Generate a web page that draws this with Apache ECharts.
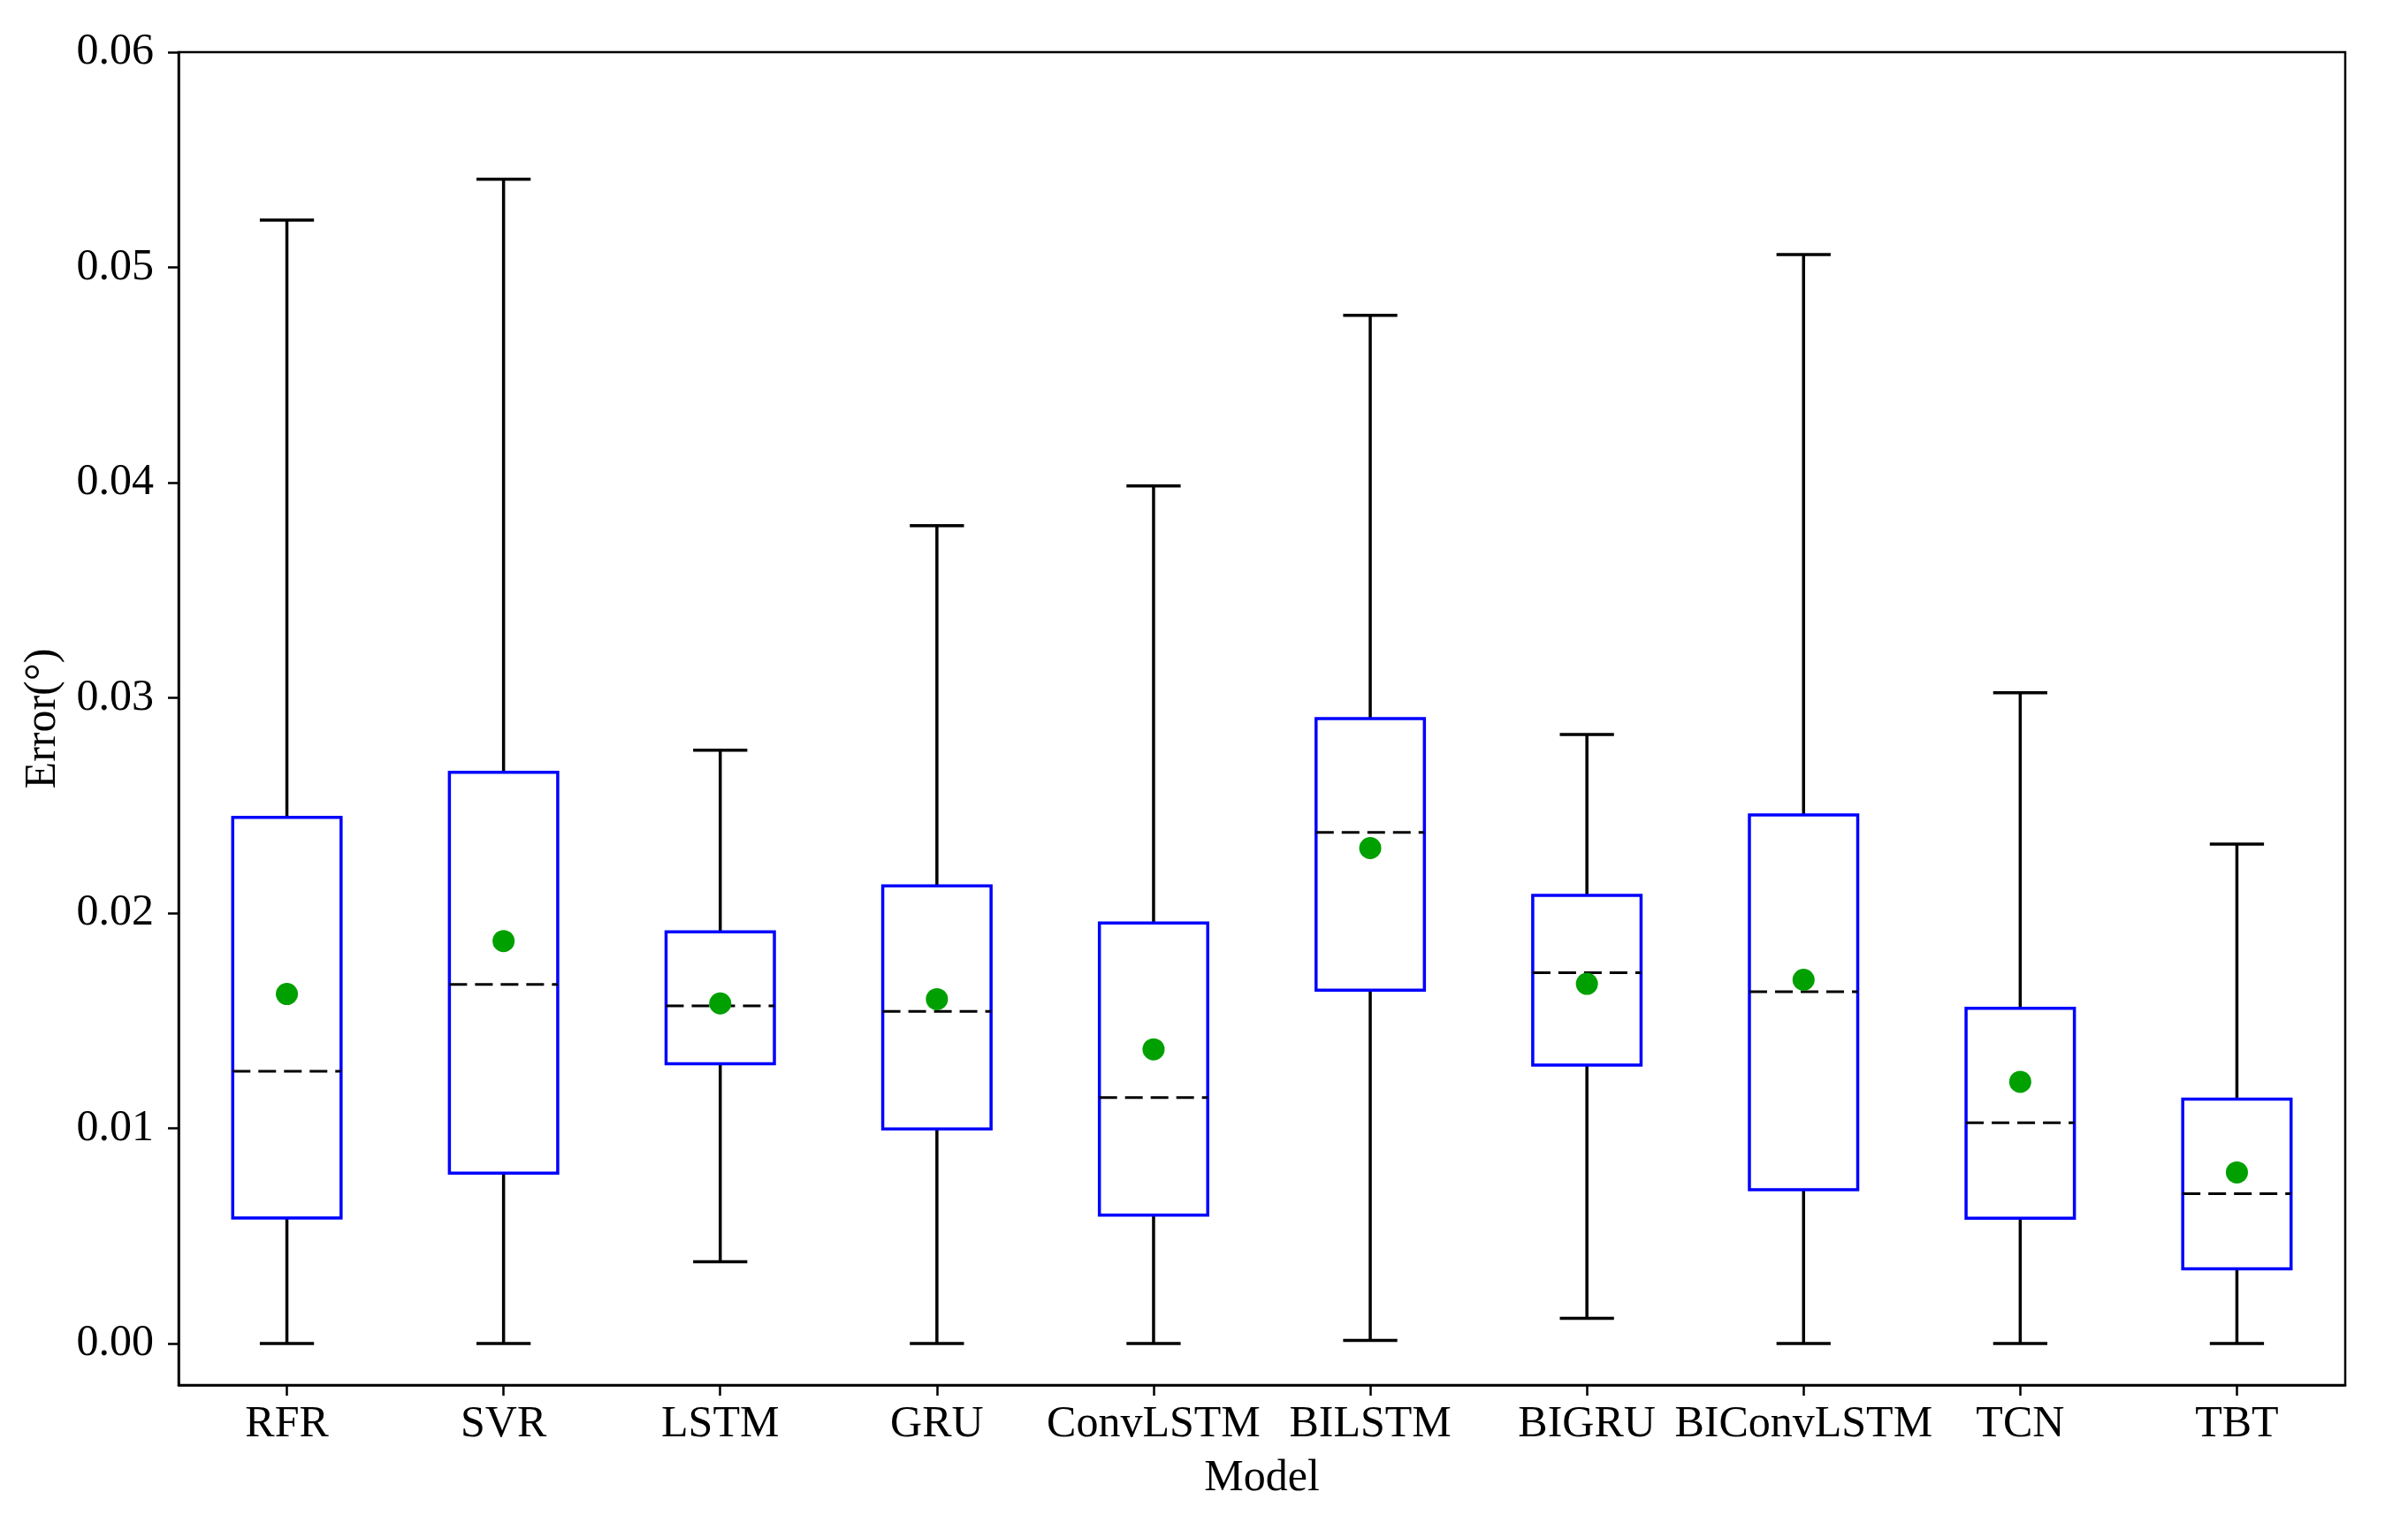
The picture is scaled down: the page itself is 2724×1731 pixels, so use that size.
<!DOCTYPE html>
<html>
<head>
<meta charset="utf-8">
<script src="https://cdn.jsdelivr.net/npm/echarts@6/dist/echarts.min.js"></script>
<style>
html,body{margin:0;padding:0;background:#fff;}
#chart{width:2724px;height:1731px;}
</style>
</head>
<body>
<div id="chart"></div>
<script>
const categories = ['RFR','SVR','LSTM','GRU','ConvLSTM','BILSTM','BIGRU','BIConvLSTM','TCN','TBT'];
const whiskerLow  = [0, 0, 0.0038, 0, 0, 0.00014, 0.00117, 0, 0, 0];
const q1Values    = [0.00583, 0.00792, 0.0130, 0.00997, 0.00597, 0.01642, 0.01294, 0.00715, 0.00582, 0.00347];
const medians     = [0.01265, 0.01668, 0.01569, 0.01543, 0.01143, 0.02375, 0.01723, 0.01634, 0.01026, 0.00696];
const q3Values    = [0.02445, 0.02654, 0.01913, 0.02126, 0.01954, 0.02903, 0.02082, 0.02456, 0.01558, 0.01136];
const whiskerHigh = [0.0522, 0.0541, 0.02757, 0.0380, 0.03985, 0.04777, 0.0283, 0.0506, 0.03024, 0.0232];
const means       = [0.01624, 0.0187, 0.0158, 0.0160, 0.01367, 0.02302, 0.01671, 0.0169, 0.01216, 0.00795];
const yTicks      = [0, 0.01, 0.02, 0.03, 0.04, 0.05, 0.06];

const FONT = 'Liberation Serif';
const textStyle = {color:'#000', fontFamily:FONT, fontSize:50};

const boxData = categories.map((c,i)=>[i, whiskerLow[i], q1Values[i], medians[i], q3Values[i], whiskerHigh[i]]);
const meanData = categories.map((c,i)=>[i, means[i]]);

const chart = echarts.init(document.getElementById('chart'));
chart.setOption({
  animation:false,
  backgroundColor:'#fff',
  grid:{left:202, right:71, top:59, bottom:164, show:true, borderColor:'#000', borderWidth:2.5, backgroundColor:'transparent'},
  xAxis:{
    type:'category', data:categories, boundaryGap:true,
    axisLine:{show:true, onZero:false, lineStyle:{color:'#000', width:2.5}},
    axisTick:{show:true, alignWithLabel:true, length:12, lineStyle:{color:'#000', width:2.5}},
    axisLabel:Object.assign({margin:20, interval:0}, textStyle),
    splitLine:{show:false},
    name:'Model', nameLocation:'middle', nameGap:81,
    nameTextStyle:textStyle
  },
  yAxis:{
    type:'value', min:-0.00193, max:0.06,
    axisLine:{show:true, lineStyle:{color:'#000', width:2.5}},
    axisTick:{show:true, customValues:yTicks, length:12, lineStyle:{color:'#000', width:2.5}},
    axisLabel:Object.assign({customValues:yTicks, margin:28, formatter:v=>v.toFixed(2)}, textStyle),
    splitLine:{show:false},
    name:'Error(°)', nameLocation:'middle', nameGap:128, nameRotate:90,
    nameTextStyle:textStyle
  },
  series:[
    {
      type:'custom',
      data:boxData,
      encode:{x:0, y:[1,2,3,4,5]},
      z:2,
      renderItem:function(params, api){
        const idx = api.value(0);
        const lo = api.coord([idx, api.value(1)]);
        const b1 = api.coord([idx, api.value(2)]);
        const md = api.coord([idx, api.value(3)]);
        const b3 = api.coord([idx, api.value(4)]);
        const hi = api.coord([idx, api.value(5)]);
        const band = api.size([1,0])[0];
        const cx = lo[0];
        const hw = band*0.25, cw = band*0.125;
        const black = {stroke:'#000', lineWidth:3.5, fill:null};
        return {type:'group', children:[
          {type:'line', shape:{x1:cx, y1:lo[1], x2:cx, y2:b1[1]}, style:black},
          {type:'line', shape:{x1:cx, y1:b3[1], x2:cx, y2:hi[1]}, style:black},
          {type:'line', shape:{x1:cx-cw, y1:lo[1], x2:cx+cw, y2:lo[1]}, style:black},
          {type:'line', shape:{x1:cx-cw, y1:hi[1], x2:cx+cw, y2:hi[1]}, style:black},
          {type:'rect', shape:{x:cx-hw, y:b3[1], width:2*hw, height:b1[1]-b3[1]}, style:{stroke:'#0000ff', lineWidth:3.5, fill:null}},
          {type:'line', shape:{x1:cx-hw, y1:md[1], x2:cx+hw, y2:md[1]}, style:{stroke:'#000', lineWidth:3, lineDash:[20,9]}}
        ]};
      }
    },
    {
      type:'scatter',
      data:meanData,
      symbol:'circle',
      symbolSize:25,
      z:3,
      itemStyle:{color:'#00a000', opacity:1}
    }
  ]
});
</script>
</body>
</html>
